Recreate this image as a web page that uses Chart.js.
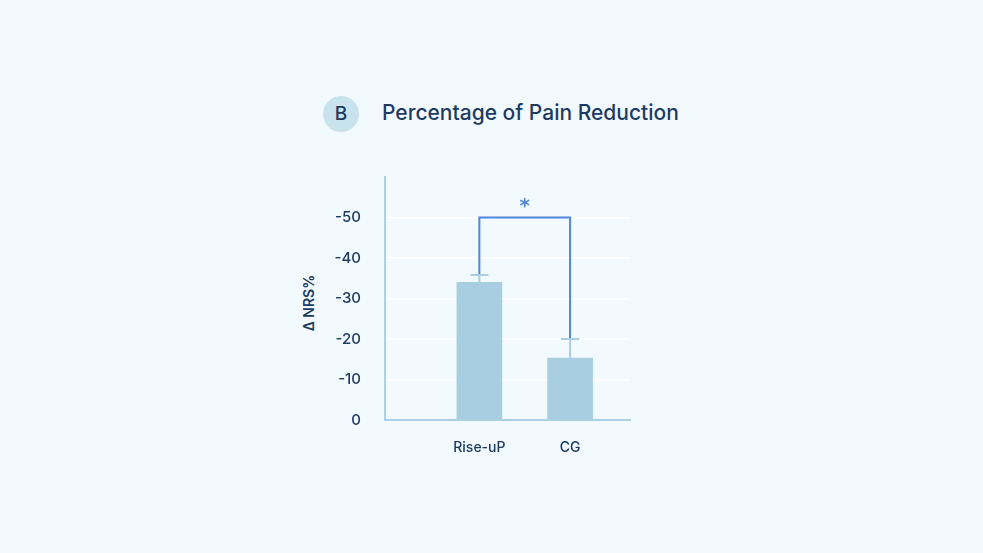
<!DOCTYPE html>
<html>
<head>
<meta charset="utf-8">
<script src="https://cdn.jsdelivr.net/npm/chart.js@4"></script>
<style>
  html, body { margin: 0; padding: 0; background: #f2faff; font-family: Inter, "Noto Sans", sans-serif; }
  #wrap { position: relative; width: 983px; height: 553px; }
  #badge { position: absolute; left: 323px; top: 96px; width: 36px; height: 36px; border-radius: 50%;
           background: #c9e3ee; color: #1d3a63; font-size: 19px; font-weight: 500; text-align: center; line-height: 36px; }
  #title { position: absolute; left: 382px; top: 100px; color: #1d3a63; font-size: 21px; font-weight: 500; }
  #ytitle { position: absolute; left: 308px; top: 303px; transform: translate(-50%, -50%) rotate(-90deg);
            color: #1d3a63; font-size: 14px; font-weight: 600; white-space: nowrap; }
  canvas { position: absolute; left: 0; top: 0; }
</style>
</head>
<body>
<div id="wrap">
  <div id="badge">B</div>
  <div id="title">Percentage of Pain Reduction</div>
  <div id="ytitle">Δ NRS%</div>
  <canvas id="chart" width="983" height="553"></canvas>
</div>
<script>
var categories = ['Rise-uP', 'CG'];
var positions = [1.04, 2.04];
var reduction = [34, 15.3];
var errorTop = [35.8, 20];
var yTicks = [0, 10, 20, 30, 40, 50];
var bracketLevel = 50;

var navy = '#1d3a63';
var barColor = '#a7cfe1';
var axisColor = '#a9d3e5';
var bracketColor = '#4d86d9';

var extras = {
    id: 'extras',
    afterDatasetsDraw: function (chart) {
        var ctx = chart.ctx, x = chart.scales.x, y = chart.scales.y;
        ctx.save();
        // error bars
        ctx.strokeStyle = barColor;
        ctx.lineWidth = 2;
        for (var i = 0; i < categories.length; i++) {
            var px = x.getPixelForValue(positions[i]);
            var y0 = y.getPixelForValue(reduction[i]);
            var y1 = y.getPixelForValue(errorTop[i]);
            ctx.beginPath();
            ctx.moveTo(px, y0); ctx.lineTo(px, y1);
            ctx.moveTo(px - 9, y1); ctx.lineTo(px + 9, y1);
            ctx.stroke();
        }
        // significance bracket
        var xa = x.getPixelForValue(positions[0]);
        var xb = x.getPixelForValue(positions[1]);
        var yl = y.getPixelForValue(bracketLevel);
        ctx.strokeStyle = bracketColor;
        ctx.lineWidth = 2;
        ctx.beginPath();
        ctx.moveTo(xa, y.getPixelForValue(errorTop[0]) - 1);
        ctx.lineTo(xa, yl);
        ctx.lineTo(xb, yl);
        ctx.lineTo(xb, y.getPixelForValue(errorTop[1]) - 1);
        ctx.stroke();
        ctx.fillStyle = bracketColor;
        ctx.font = 'bold 20px "DejaVu Sans"';
        ctx.textAlign = 'center';
        ctx.textBaseline = 'middle';
        ctx.fillText('*', (xa + xb) / 2, yl - 11);
        ctx.restore();
    }
};

new Chart(document.getElementById('chart').getContext('2d'), {
    type: 'bar',
    data: {
        datasets: [{
            data: positions.map(function (p, i) { return { x: p, y: reduction[i] }; }),
            backgroundColor: barColor,
            barThickness: 45
        }]
    },
    options: {
        responsive: false,
        animation: false,
        layout: { padding: { top: 177, right: 353, left: 0, bottom: 0 } },
        plugins: { legend: { display: false }, tooltip: { enabled: false } },
        scales: {
            x: {
                type: 'linear', min: 0, max: 2.7, offset: false,
                afterFit: function (s) { s.height = 133; },
                afterBuildTicks: function (s) { s.ticks = positions.map(function (p) { return { value: p }; }); },
                ticks: {
                    padding: 19, color: navy, font: { family: 'Inter', size: 14, weight: '500' },
                    callback: function (v) { return categories[positions.indexOf(v)]; }
                },
                grid: { display: false, drawTicks: false },
                border: { color: axisColor, width: 2 }
            },
            y: {
                min: 0, max: 60,
                afterFit: function (s) { s.width = 385; },
                afterBuildTicks: function (s) { s.ticks = yTicks.map(function (v) { return { value: v }; }); },
                ticks: {
                    padding: 24, color: navy, font: { family: 'Inter', size: 15, weight: '500' },
                    callback: function (v) { return v === 0 ? '0' : '-' + v; }
                },
                grid: { color: '#ffffff', lineWidth: 1.5, drawTicks: false },
                border: { color: axisColor, width: 2 }
            }
        }
    },
    plugins: [extras]
});
</script>
</body>
</html>
